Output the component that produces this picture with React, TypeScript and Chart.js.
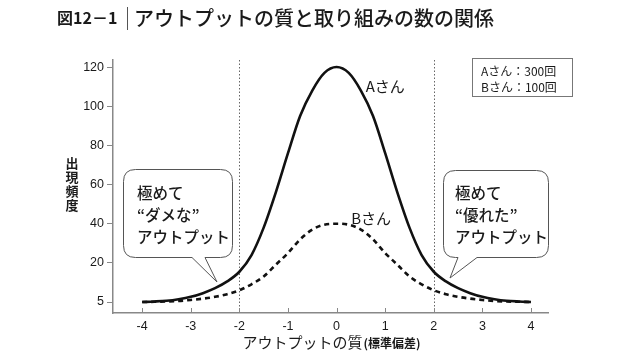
import React, { useEffect, useRef } from 'react';
import { Chart, registerables } from 'chart.js';

Chart.register(...registerables);

// ---- data ----
const X_VALUES = [-4, -3.75, -3.5, -3.25, -3, -2.75, -2.5, -2.25, -2, -1.75, -1.5, -1.25, -1, -0.75, -0.5, -0.25, 0,
  0.25, 0.5, 0.75, 1, 1.25, 1.5, 1.75, 2, 2.25, 2.5, 2.75, 3, 3.25, 3.5, 3.75, 4];
const A_VALUES = [5, 5.2, 5.5, 6.1, 7.0, 8.4, 10.3, 12.9, 16.6, 24, 38, 56, 76, 95, 108, 117, 120,
  117, 108, 95, 76, 56, 38, 24, 16.6, 12.9, 10.3, 8.4, 7.0, 6.1, 5.5, 5.2, 5];
const B_VALUES = [5, 5.1, 5.2, 5.4, 5.8, 6.3, 7.0, 8.0, 9.5, 11.8, 14.8, 19.3, 25, 32, 37, 39.5, 40,
  39.5, 37, 32, 25, 19.3, 14.8, 11.8, 9.5, 8.0, 7.0, 6.3, 5.8, 5.4, 5.2, 5.1, 5];
const X_TICKS = [-4, -3, -2, -1, 0, 1, 2, 3, 4];
const Y_TICKS = [5, 20, 40, 60, 80, 100, 120];
const MARK_LINES = [-2, 2];
const TITLE_PREFIX = '図12－1';
const TITLE_MAIN = 'アウトプットの質と取り組みの数の関係';
const Y_TITLE = ['出', '現', '頻', '度'];
const X_TITLE_MAIN = 'アウトプットの質';
const X_TITLE_SUB = '(標準偏差)';
const SERIES_LABELS = ['Aさん', 'Bさん'];
const LEGEND_LINES = ['Aさん：300回', 'Bさん：100回'];
const LEFT_CALLOUT = ['極めて', '“ダメな”', 'アウトプット'];
const RIGHT_CALLOUT = ['極めて', '“優れた”', 'アウトプット'];

// the axis is compressed below 20 (the "5" tick sits one step under 20)
const toAxis = (v: number) => (v < 20 ? ((v - 5) * 20) / 15 : v);
const fromAxis = (a: number) => (a < 20 ? 5 + (a * 15) / 20 : a);

const JP = '"Noto Sans CJK JP", "Noto Sans", sans-serif';
const SANS = '"Liberation Sans", Arial, sans-serif';

function callout(ctx: CanvasRenderingContext2D, l: number, t: number, r: number, b: number, rad: number,
  b1: number, b2: number, tipX: number, tipY: number) {
  ctx.beginPath();
  ctx.moveTo(l + rad, t);
  ctx.lineTo(r - rad, t);
  ctx.quadraticCurveTo(r, t, r, t + rad);
  ctx.lineTo(r, b - rad);
  ctx.quadraticCurveTo(r, b, r - rad, b);
  ctx.lineTo(b2, b);
  ctx.lineTo(tipX, tipY);
  ctx.lineTo(b1, b);
  ctx.lineTo(l + rad, b);
  ctx.quadraticCurveTo(l, b, l, b - rad);
  ctx.lineTo(l, t + rad);
  ctx.quadraticCurveTo(l, t, l + rad, t);
  ctx.closePath();
  ctx.fillStyle = '#ffffff';
  ctx.fill();
  ctx.strokeStyle = '#555';
  ctx.lineWidth = 1;
  ctx.stroke();
}

const overlay = {
  id: 'overlay',
  beforeDatasetsDraw(chart: any) {
    const { ctx, chartArea, scales } = chart;
    ctx.save();
    ctx.strokeStyle = '#666';
    ctx.lineWidth = 1;
    ctx.setLineDash([1.5, 2]);
    MARK_LINES.forEach((v) => {
      const x = Math.round(scales.x.getPixelForValue(v)) + 0.5;
      ctx.beginPath();
      ctx.moveTo(x, chartArea.top);
      ctx.lineTo(x, chartArea.bottom);
      ctx.stroke();
    });
    ctx.setLineDash([]);
    // inside tick marks on x axis
    ctx.strokeStyle = '#888';
    X_TICKS.forEach((v) => {
      const x = Math.round(scales.x.getPixelForValue(v)) + 0.5;
      ctx.beginPath();
      ctx.moveTo(x, chartArea.bottom - 5);
      ctx.lineTo(x, chartArea.bottom);
      ctx.stroke();
    });
    ctx.restore();
  },
  afterDraw(chart: any) {
    const { ctx, scales } = chart;
    ctx.save();
    ctx.fillStyle = '#1a1a1a';
    ctx.textBaseline = 'middle';
    ctx.textAlign = 'left';

    // title
    ctx.font = `bold 16px ${JP}`;
    ctx.fillText(TITLE_PREFIX, 57, 18);
    ctx.strokeStyle = '#555';
    ctx.lineWidth = 1;
    ctx.beginPath();
    ctx.moveTo(127.5, 7);
    ctx.lineTo(127.5, 30);
    ctx.stroke();
    ctx.font = `500 20px ${JP}`;
    ctx.fillText(TITLE_MAIN, 134, 18);

    // y title (vertical)
    ctx.font = `bold 13px ${JP}`;
    ctx.textAlign = 'center';
    Y_TITLE.forEach((c, i) => ctx.fillText(c, 72, 163 + i * 14));

    // x title
    ctx.textAlign = 'left';
    ctx.font = `15px ${JP}`;
    const w1 = ctx.measureText(X_TITLE_MAIN).width;
    ctx.font = `bold 12px ${JP}`;
    const w2 = ctx.measureText(X_TITLE_SUB).width;
    const sx = 331 - (w1 + w2) / 2;
    ctx.font = `15px ${JP}`;
    ctx.fillText(X_TITLE_MAIN, sx, 342);
    ctx.font = `bold 12px ${JP}`;
    ctx.fillText(X_TITLE_SUB, sx + w1 + 1, 343);

    // series labels
    ctx.font = `15px ${JP}`;
    ctx.fillText(SERIES_LABELS[0], scales.x.getPixelForValue(0.6), scales.y.getPixelForValue(110));
    ctx.fillText(SERIES_LABELS[1], scales.x.getPixelForValue(0.3), scales.y.getPixelForValue(43));

    // legend box
    ctx.strokeStyle = '#777';
    ctx.lineWidth = 1;
    ctx.strokeRect(472.5, 58.5, 100, 38);
    ctx.font = `12px ${JP}`;
    ctx.fillText(LEGEND_LINES[0], 481, 71);
    ctx.fillText(LEGEND_LINES[1], 481, 87);

    // callouts
    callout(ctx, 123.5, 169.5, 232.5, 257.5, 12, 192, 205, 217, 282);
    callout(ctx, 443.5, 170.5, 548.5, 257.5, 12, 458, 477, 450, 278);
    ctx.fillStyle = '#1a1a1a';
    ctx.font = `500 15.5px ${JP}`;
    LEFT_CALLOUT.forEach((s, i) => ctx.fillText(s, 137, 193 + i * 22));
    RIGHT_CALLOUT.forEach((s, i) => ctx.fillText(s, 455, 193 + i * 22));
    ctx.restore();
  },
};

export default function App() {
  const ref = useRef<HTMLCanvasElement | null>(null);
  useEffect(() => {
    if (!ref.current) return;
    const chart = new Chart(ref.current, {
      type: 'line',
      data: {
        datasets: [
          {
            label: SERIES_LABELS[0],
            data: X_VALUES.map((x, i) => ({ x, y: toAxis(A_VALUES[i]) })),
            borderColor: '#111',
            borderWidth: 2.6,
            pointRadius: 0,
            cubicInterpolationMode: 'monotone',
            fill: false,
          },
          {
            label: SERIES_LABELS[1],
            data: X_VALUES.map((x, i) => ({ x, y: toAxis(B_VALUES[i]) })),
            borderColor: '#111',
            borderWidth: 2.6,
            borderDash: [5, 4],
            pointRadius: 0,
            cubicInterpolationMode: 'monotone',
            fill: false,
          },
        ],
      },
      options: {
        responsive: false,
        animation: false,
        layout: { padding: { top: 60, right: 92, left: 0, bottom: 0 } },
        plugins: { legend: { display: false }, tooltip: { enabled: false }, title: { display: false } },
        scales: {
          x: {
            type: 'linear',
            min: -4.6,
            max: 4.35,
            afterBuildTicks: (axis: any) => {
              axis.ticks = X_TICKS.map((v) => ({ value: v }));
            },
            afterFit: (axis: any) => {
              axis.height = 47;
            },
            grid: { display: true, drawOnChartArea: false, drawTicks: false },
            border: { display: true, color: '#888', width: 1.5 },
            ticks: {
              padding: 6,
              color: '#1a1a1a',
              font: { family: SANS, size: 12.5 },
              maxRotation: 0,
              callback: (v: any) => String(v),
            },
          },
          y: {
            type: 'linear',
            min: -5.6,
            max: 123.6,
            afterBuildTicks: (axis: any) => {
              axis.ticks = Y_TICKS.map((v) => ({ value: toAxis(v) }));
            },
            afterFit: (axis: any) => {
              axis.width = 113;
            },
            grid: { display: true, drawOnChartArea: false, drawTicks: true, tickLength: 6, color: '#888' },
            border: { display: true, color: '#888', width: 1.5 },
            ticks: {
              padding: 3,
              color: '#1a1a1a',
              font: { family: SANS, size: 12.5 },
              callback: (v: any) => String(Math.round(fromAxis(Number(v)))),
            },
          },
        },
      },
      plugins: [overlay],
    } as any);
    return () => chart.destroy();
  }, []);
  return (
    <div style={{ position: 'fixed', left: 0, top: 0, width: 640, height: 360, background: '#fff' }}>
      <canvas ref={ref} width={640} height={360} style={{ display: 'block', width: 640, height: 360 }} />
    </div>
  );
}
